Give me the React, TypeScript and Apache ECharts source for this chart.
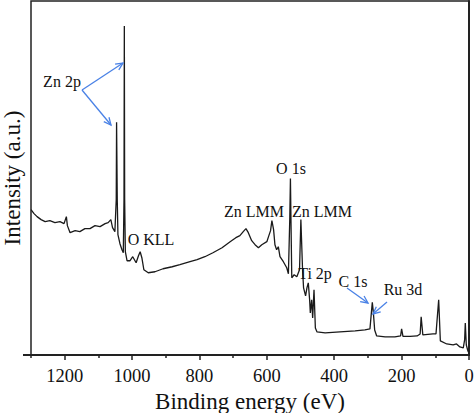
import React, { useEffect, useRef } from "react";
import * as echarts from "echarts";

// Binding energy (eV) and intensity (a.u.)
const energy = [
  1300, 1291, 1282, 1270, 1258, 1244, 1229, 1214, 1202, 1195, 1192, 1184, 1169, 1155, 1140, 1125,
  1110, 1095, 1080, 1071, 1063, 1058, 1051, 1047, 1046, 1044, 1042, 1036, 1030, 1026, 1024, 1023,
  1022, 1020, 1015, 1006, 998, 988, 981, 976, 971, 965, 952, 932, 908, 881, 858, 828, 807, 784, 760,
  733, 709, 692, 680, 670, 662, 655, 645, 635, 625, 615, 600, 595, 589, 585, 580, 576, 571, 566, 561,
  551, 541, 536, 532, 530, 528, 526, 519, 511, 503, 499, 494, 491, 485, 481, 477, 473, 471, 467, 464,
  460, 456, 451, 427, 383, 338, 309, 294, 289, 287, 284, 280, 274, 249, 220, 203, 200, 196, 175, 154,
  145, 142, 137, 122, 107, 98, 90, 85, 66, 47, 37, 27, 17, 13, 11, 8, 4, 2,
];
const intensity = [
  145, 141, 138, 135, 133, 134, 132, 133, 131, 138, 129, 122, 124, 123, 126, 126,
  129, 128, 131, 132, 135, 127, 123, 155, 232, 155, 120, 111, 105, 102, 155, 328,
  155, 103, 94, 94, 98, 92, 99, 103, 97, 85, 82, 83, 86, 88, 90, 93, 95, 98, 102,
  107, 113, 117, 119, 123, 126, 122, 114, 110, 107, 110, 113, 118, 124, 134, 125, 110, 105, 108, 98,
  93, 87, 81, 135, 176, 125, 77, 80, 78, 85, 135, 85, 67, 59, 67, 72, 55, 42, 55, 37,
  65, 27, 23, 22, 23, 24, 25, 26, 45, 52.5, 43, 25, 19, 18, 18, 19, 26, 18.5, 18.5, 19,
  21, 38, 20, 20.5, 21, 21, 55, 14, 11, 10, 11, 8, 7, 15, 32, 10, 5, 3,
];
const majorTicks = [0, 200, 400, 600, 800, 1000, 1200];
const minorTicks = [100, 300, 500, 700, 900, 1100, 1300];

const SERIF = "Liberation Serif";
const BLUE = "#4a82e6";

function arrow(x1: number, y1: number, x2: number, y2: number) {
  const ang = Math.atan2(y2 - y1, x2 - x1);
  const L = 8;
  const a = (25 * Math.PI) / 180;
  const p1 = [x2 - L * Math.cos(ang - a), y2 - L * Math.sin(ang - a)];
  const p2 = [x2 - L * Math.cos(ang + a), y2 - L * Math.sin(ang + a)];
  return [
    { type: "line", shape: { x1, y1, x2, y2 }, style: { stroke: BLUE, lineWidth: 1.3 }, z: 100 },
    { type: "polyline", shape: { points: [p1, [x2, y2], p2] }, style: { stroke: BLUE, lineWidth: 1.3, fill: null }, z: 100 },
  ];
}

function label(text: string, x: number, y: number) {
  return {
    type: "text",
    x,
    y,
    z: 100,
    style: { text, fill: "#111", fontFamily: SERIF, fontSize: 16, align: "center", verticalAlign: "middle" },
  };
}

function buildOption() {
  const data = energy.map((e, i) => [e, intensity[i]]);
  return {
    animation: false,
    textStyle: { fontFamily: SERIF },
    grid: { left: 31, right: 5, top: 1, bottom: 58, show: true, borderColor: "#222", borderWidth: 1.5, outerBoundsMode: "none" },
    xAxis: [
      {
        type: "value",
        min: 0,
        max: 1300,
        inverse: true,
        interval: 200,
        name: "Binding energy (eV)",
        nameLocation: "middle",
        nameGap: 34,
        nameTextStyle: { fontFamily: SERIF, fontSize: 23, color: "#111" },
        axisLine: { show: true, lineStyle: { color: "#222", width: 2 } },
        axisTick: { show: true, inside: false, length: 5, customValues: majorTicks, lineStyle: { color: "#222", width: 1.5 } },
        axisLabel: {
          show: true,
          customValues: majorTicks,
          margin: 11,
          fontFamily: SERIF,
          fontSize: 18.5,
          color: "#111",
          formatter: (v: number) => String(v),
        },
        splitLine: { show: false },
      },
      {
        type: "value",
        min: 0,
        max: 1300,
        inverse: true,
        interval: 100,
        position: "bottom",
        axisLine: { show: false },
        axisTick: { show: true, inside: false, length: 3, customValues: minorTicks, lineStyle: { color: "#222", width: 1.5 } },
        axisLabel: { show: false },
        splitLine: { show: false },
      },
    ],
    yAxis: {
      type: "value",
      min: 0,
      max: 353,
      name: "Intensity (a.u.)",
      nameLocation: "middle",
      nameGap: 7,
      nameTextStyle: { fontFamily: SERIF, fontSize: 23, color: "#111" },
      axisLine: { show: true, lineStyle: { color: "#222", width: 2 } },
      axisTick: { show: false },
      axisLabel: { show: false },
      splitLine: { show: false },
    },
    series: [
      {
        type: "line",
        xAxisIndex: 0,
        data,
        showSymbol: false,
        symbol: "none",
        lineStyle: { color: "#1a1a1a", width: 1.3 },
        z: 3,
      },
    ],
    graphic: [
      { type: "line", shape: { x1: 23, y1: 355, x2: 31, y2: 355 }, style: { stroke: "#222", lineWidth: 2 } },
      label("Zn 2p", 62, 81),
      label("O KLL", 151, 239),
      label("Zn LMM", 254, 211),
      label("Zn LMM", 322, 211),
      label("O 1s", 291, 168),
      label("Ti 2p", 315, 273),
      label("C 1s", 353, 281),
      label("Ru 3d", 403, 289),
      ...arrow(82, 90, 123, 63),
      ...arrow(82, 90, 111, 125),
      ...arrow(347, 288, 368, 303),
      ...arrow(387, 302, 373, 314),
    ],
  };
}

export default function App() {
  const ref = useRef<HTMLDivElement>(null);
  useEffect(() => {
    const el = ref.current;
    if (!el) return;
    document.body.style.margin = "0";
    const css = document.createElement("style");
    css.textContent = 'svg text { font-family: "Liberation Serif", "Times New Roman", serif !important; }';
    document.head.appendChild(css);
    const chart = echarts.init(el, undefined, { renderer: "svg" });
    chart.setOption(buildOption());
    const fixFonts = () => {
      el.querySelectorAll("text").forEach((t) => {
        const node = t as unknown as SVGTextElement;
        node.setAttribute("font-family", SERIF);
        node.style.fontFamily = '"Liberation Serif", serif';
      });
    };
    fixFonts();
    chart.on("finished", fixFonts);
    const raf = requestAnimationFrame(fixFonts);
    const t1 = setTimeout(fixFonts, 30);
    return () => {
      cancelAnimationFrame(raf);
      clearTimeout(t1);
      chart.dispose();
      css.remove();
    };
  }, []);
  return (
    <div style={{ fontFamily: SERIF, background: "#fff" }}>
      <div ref={ref} style={{ width: 474, height: 413 }} />
    </div>
  );
}
